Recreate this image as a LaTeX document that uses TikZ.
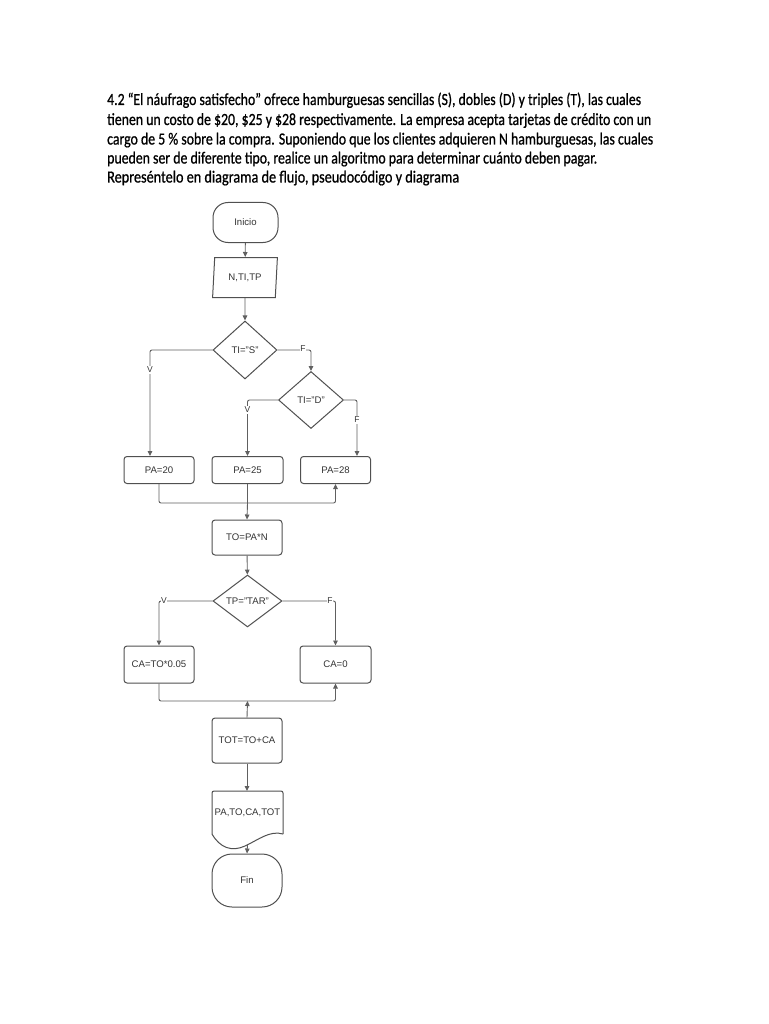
\documentclass[tikz,border=0pt]{standalone}
\usepackage{fontspec}
\usepackage{graphicx}
\setmainfont{Liberation Sans}
\newfontfamily\titlefont[FakeBold=0.9]{Carlito}
\usetikzlibrary{shapes.geometric,arrows.meta}
\definecolor{boxc}{HTML}{505050}
\definecolor{linec}{HTML}{606060}
\definecolor{txt}{HTML}{333333}
\begin{document}
\begin{tikzpicture}[x=1pt,y=-1pt,
  every node/.style={text=txt},
  base/.style={draw=boxc, line width=1pt, font=\fontsize{9.6}{11}\selectfont, inner sep=1pt, align=center},
  proc/.style={base, rounded corners=3pt, minimum width=70pt},
  term/.style={base, rounded corners=15pt, minimum width=65pt},
  inp/.style={base, trapezium, trapezium left angle=83, trapezium right angle=97, trapezium stretches=true, minimum width=65pt, minimum height=40pt},
  dec/.style={base, diamond, inner sep=0pt},
  conn/.style={draw=linec, line width=0.9pt, rounded corners=2pt},
  arr/.style={conn, -{Triangle[length=5pt,width=4.5pt]}},
  lab/.style={fill=white, inner sep=0.6pt, font=\fontsize{8.5}{9}\selectfont},
  tline/.style={anchor=base west, inner sep=0pt, text=black}
]
\useasboundingbox[fill=white] (0,0) rectangle (768,1024);

% ---- title text ----
\newcommand{\tl}[2]{\resizebox{#1pt}{\height}{\titlefont\fontsize{17}{20}\selectfont #2}}
\node[tline] (t1) at (107,105) {\tl{534}{4.2 “El náufrago satisfecho” ofrece hamburguesas sencillas (S), dobles (D) y triples (T), las cuales}};
\node[tline] (t2) at (107,125) {\tl{544}{tienen un costo de \$20, \$25 y \$28 respectivamente. La empresa acepta tarjetas de crédito con un}};
\node[tline] (t3) at (107,144.5) {\tl{546}{cargo de 5 \% sobre la compra. Suponiendo que los clientes adquieren N hamburguesas, las cuales}};
\node[tline] (t4) at (107,163.5) {\tl{490}{pueden ser de diferente tipo, realice un algoritmo para determinar cuánto deben pagar.}};
\node[tline] (t5) at (107,182.5) {\tl{352}{Represéntelo en diagrama de flujo, pseudocódigo y diagrama}};

% ---- flowchart nodes ----
\node[term, minimum height=40pt] (ini) at (245.5,222.5) {Inicio};
\node[inp] (in) at (245,277.5) {N,TI,TP};
\node[dec, minimum width=64pt, minimum height=58pt] (dS) at (245,350) {TI="S"};
\node[dec, minimum width=65pt, minimum height=57pt] (dD) at (311,400) {TI="D"};
\node[proc, minimum height=27pt] (p20) at (159,470) {PA=20};
\node[proc, minimum height=27pt, minimum width=71pt] (p25) at (247.5,470) {PA=25};
\node[proc, minimum height=27pt] (p28) at (335.5,470) {PA=28};
\node[proc, minimum height=35pt] (to) at (247,537.5) {TO=PA*N};
\node[dec, minimum width=69pt, minimum height=52pt] (dT) at (247.5,601) {TP="TAR"};
\node[proc, minimum height=37pt] (ca1) at (159,664.5) {CA=TO*0.05};
\node[proc, minimum height=37pt, minimum width=71pt] (ca0) at (335.5,664.5) {CA=0};
\node[proc, minimum height=45pt] (tot) at (247,740.5) {TOT=TO+CA};
\node[inner sep=0pt, minimum width=71pt, minimum height=43pt, font=\fontsize{9.6}{11}\selectfont] (doc) at (247.5,812.5) {PA,TO,CA,TOT};
\node[term, minimum height=53pt, minimum width=70pt, rounded corners=20pt] (fin) at (247,880.5) {Fin};

% document shape outline
\draw[draw=boxc, line width=1pt, rounded corners=2pt]
  (212,834) -- (212,791) -- (283,791) -- (283,834);
\draw[draw=boxc, line width=1pt]
  (283,834) .. controls (270,830) and (258,840) .. (245,846)
            .. controls (232,852) and (220,848) .. (212,834);

% ---- connector points ----
\coordinate (m1) at (247.5,503);
\coordinate (m2) at (247.5,701);
\coordinate (docb) at (247.5,845);

% ---- connectors ----
\draw[arr] (ini) -- (in);
\draw[arr] (in) -- (dS);
\draw[arr] (dS.west) -| ([xshift=-9pt]p20.north);
\node[lab] (v1) at (150,370) {V};
\draw[arr] (dS.east) -| (dD.north);
\node[lab] (f1) at (303,348.5) {F};
\draw[arr] (dD.west) -| (p25.north);
\node[lab] (v2) at (247.5,410) {V};
\draw[arr] (dD.east) -| ([xshift=21.5pt]p28.north);
\node[lab] (f2) at (357,420) {F};

\draw[arr] (p20.south) |- (m1) -| (p28.south);
\draw[conn] (p25.south) -- (m1);
\draw[arr] (m1) -- (to.north);
\draw[arr] (to) -- (dT);

\draw[arr] (dT.west) -| (ca1.north);
\node[lab] (v3) at (164,601) {V};
\draw[arr] (dT.east) -| (ca0.north);
\node[lab] (f3) at (330,601) {F};

\draw[arr] (ca1.south) |- (m2) -| (ca0.south);
\draw[arr] (tot.north) -- (m2);
\draw[arr] (tot.south) -- (247,791);
\draw[arr] (docb) -- (fin.north);
\end{tikzpicture}
\end{document}
